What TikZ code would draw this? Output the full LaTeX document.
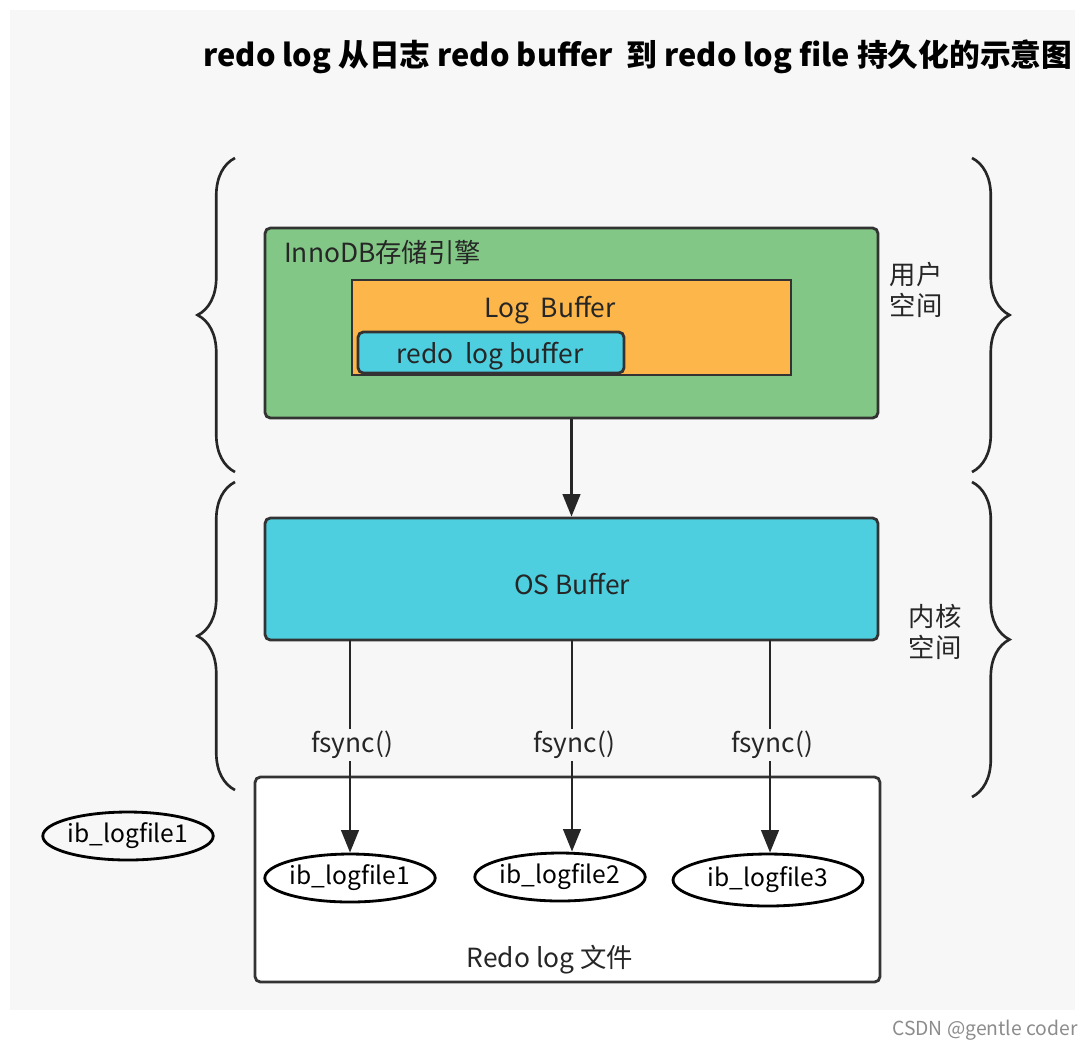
\documentclass[tikz,border=0pt]{standalone}
\usepackage{fontspec}
\setmainfont{Noto Sans CJK SC}
\usetikzlibrary{decorations.pathreplacing,arrows.meta,shapes.geometric}
\definecolor{gbox}{HTML}{82C785}
\definecolor{obox}{HTML}{FDB64A}
\definecolor{cbox}{HTML}{4DCFE0}
\definecolor{edge}{HTML}{333333}
\begin{document}
\begin{tikzpicture}[x=0.02cm,y=-0.02cm,
  box/.style={draw=edge,line width=1.6pt,rounded corners=3pt},
  txt/.style={font=\fontsize{15}{18}\selectfont,text=black!85},
  lf/.style={draw=black,line width=1.6pt,ellipse,inner sep=0pt,font=\fontsize{14}{17}\selectfont},
  brc/.style={decorate,decoration={brace,amplitude=0.75cm},line width=1.5pt,draw=black!85},
  arr/.style={-{Triangle[length=0.45cm,width=0.35cm]},line width=1.5pt,draw=black!85}]
\fill[white] (0,0) rectangle (1084,1046);
\fill[black!3] (10,10) rectangle (1075,1010);
\node[font=\bfseries\fontsize{17.5}{20}\selectfont] (title) at (638,57) {redo log 从日志 redo buffer\ \ 到 redo log file 持久化的示意图};
% user space
\node[box,fill=gbox,minimum width=12.26cm,minimum height=3.8cm] (inno) at (571.5,323) {};
\node[txt,anchor=west] (innot) at (278,252) {InnoDB存储引擎};
\node[draw=edge,line width=1.6pt,fill=obox,minimum width=8.78cm,minimum height=1.9cm] (logbuf) at (571.5,327.5) {};
\node[txt] (logbuft) at (550,310) {Log\ \ Buffer};
\node[box,fill=cbox,minimum width=5.32cm,minimum height=0.82cm] (redobuf) at (491,352.5) {};
\node[txt] (redot) at (490,356) {redo\ \ log buffer};
% kernel space
\node[box,fill=cbox,minimum width=12.26cm,minimum height=2.44cm] (os) at (571.5,579) {};
\node[txt] (ost) at (572,584) {OS Buffer};
\draw[arr] (inno.south) -- (os.north);
% files
\node[box,fill=white,minimum width=12.5cm,minimum height=4.1cm] (files) at (567.5,879.5) {};
\node[txt] (filest) at (550,960) {Redo log 文件};
\node[lf,minimum width=3.3cm,minimum height=0.96cm] (f1) at (350,878) {ib\_logfile1};
\node[lf,minimum width=3.04cm,minimum height=0.96cm] (f2) at (560,877) {ib\_logfile2};
\node[lf,minimum width=3.8cm,minimum height=1.04cm] (f3) at (768,880) {ib\_logfile3};
\node[lf,minimum width=3.3cm,minimum height=0.96cm] (f0) at (128,836) {ib\_logfile1};
\coordinate (s1) at (350,640);
\coordinate (s2) at (572,640);
\coordinate (s3) at (770,640);
\foreach \i in {1,2,3} {
  \draw[arr] (s\i) -- (s\i |- f\i.north);
}
\node[txt,fill=black!3,inner sep=1pt] (y1) at (352,745) {fsync()};
\node[txt,fill=black!3,inner sep=1pt] (y2) at (574,745) {fsync()};
\node[txt,fill=black!3,inner sep=1pt] (y3) at (772,745) {fsync()};
% braces
\draw[brc] (235,472) -- (235,158);
\draw[brc] (235,790) -- (235,482);
\draw[brc] (972,158) -- (972,472);
\draw[brc] (972,482) -- (972,797);
\node[txt,align=left] (us) at (916,290) {用户\\空间};
\node[txt,align=left] (ks) at (935,632) {内核\\空间};
\node[font=\fontsize{11}{13}\selectfont,text=black!45] (wm) at (985,1030) {CSDN @gentle coder};
\end{tikzpicture}
\end{document}
